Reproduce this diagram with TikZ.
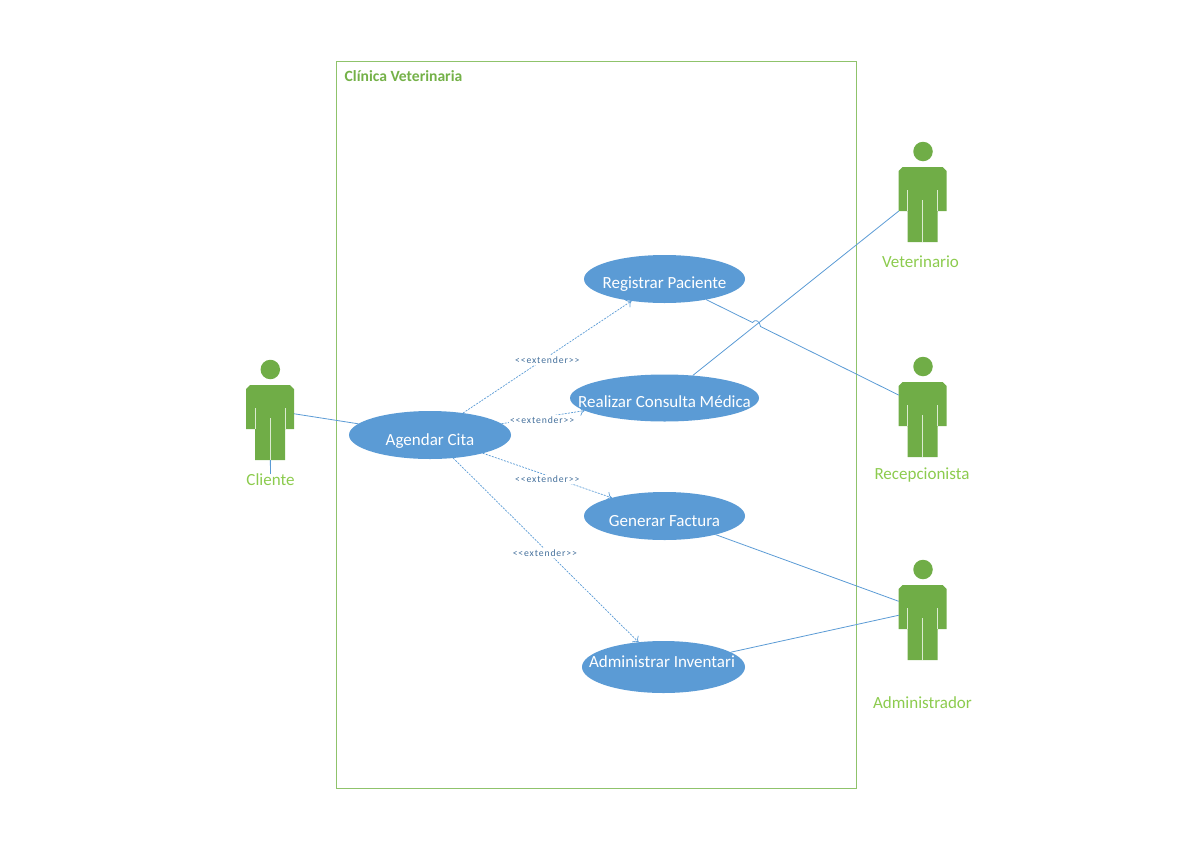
\documentclass[tikz,border=0pt]{standalone}
\usepackage{fontspec}
\setmainfont{Carlito}
\newfontfamily\extfont[LetterSpace=9]{Carlito}
\usepackage{xcolor}
\usetikzlibrary{shapes,arrows.meta,positioning}
\definecolor{actorgreen}{HTML}{70AD47}
\definecolor{labelgreen}{HTML}{8CCB4E}
\definecolor{framegreen}{HTML}{8FC36B}
\definecolor{caseblue}{HTML}{5B9BD5}
\definecolor{extblue}{HTML}{44709C}

% actor figure: name, x, y of the body centre
\newcommand{\actorfig}[3]{
    \node[actorbox] (#1) at (#2,#3) {};
    \node[actorhead] (#1head) at (#2+0.3,#3-40.5) {};
    \fill[actorgreen] (#2-20,#3-25) -- (#2+20,#3-25) -- (#2+24,#3-21) -- (#2+24,#3+19) -- (#2+15,#3+19)
        -- (#2+15,#3+50) -- (#2-15,#3+50) -- (#2-15,#3+19) -- (#2-24,#3+19) -- (#2-24,#3-21) -- cycle;
    \draw[actorgap] (#2-15,#3-2) -- (#2-15,#3+19);
    \draw[actorgap] (#2+15,#3-2) -- (#2+15,#3+19);
    \draw[actorgap] (#2,#3+8) -- (#2,#3+50);
}
% text of a use case, which does not widen its ellipse
\newcommand{\casetext}[2]{\raisebox{#1}[0pt][0pt]{\makebox[0pt]{#2}}}

\begin{document}
\begin{tikzpicture}[
    x=1pt, y=-1pt,
    usecase/.style={ellipse, fill=caseblue, inner sep=0pt, outer sep=0pt, text=white, font=\fontsize{17}{18}\selectfont},
    actorbox/.style={rectangle, minimum width=48pt, minimum height=100pt, inner sep=0pt, outer sep=0pt},
    actorhead/.style={circle, fill=actorgreen, minimum size=19.5pt, inner sep=0pt},
    actorgap/.style={white!75!actorgreen, line width=0.9pt},
    actorlabel/.style={text=labelgreen, font=\fontsize{17}{18}\selectfont, inner sep=0pt},
    assoc/.style={caseblue, line width=0.8pt},
    extend/.style={-{To[length=5pt, width=9pt, line width=0.7pt, fill=none]}, caseblue, line width=0.7pt, dash pattern=on 2pt off 1.2pt},
    extlabel/.style={fill=white, text=extblue, inner sep=1.5pt, font=\fontsize{9.7}{10}\extfont}
]
    \useasboundingbox (0,0) rectangle (1200,849);

    % System boundary
    \node[rectangle, draw=framegreen, line width=0.9pt, minimum width=520pt, minimum height=727pt, inner sep=0pt] (clinica) at (596.3,424.5) {};
    \node[text=actorgreen!85!labelgreen, font=\fontsize{15.6}{16}\selectfont\bfseries, inner sep=0pt] (titulo) at (403.5,76) {Clínica Veterinaria};

    % Use cases
    \node[usecase, minimum width=162pt, minimum height=48pt] (agendar) at (430,435) {\casetext{-10pt}{Agendar Cita}};
    \node[usecase, minimum width=161pt, minimum height=48pt] (registrar) at (664.5,279) {\casetext{-9pt}{Registrar Paciente}};
    \node[usecase, minimum width=189pt, minimum height=47pt] (realizar) at (664.5,398) {\casetext{-9pt}{Realizar Consulta Médica}};
    \node[usecase, minimum width=161pt, minimum height=48pt] (generar) at (664.5,516) {\casetext{-10pt}{Generar Factura}};
    \node[usecase, minimum width=163pt, minimum height=52pt] (administrar) at (663.5,667) {\casetext{0pt}{\hspace{-3pt}Administrar Inventari}};

    % Actor labels
    \node[actorlabel] (clientelabel) at (270.5,480) {Cliente};
    \node[actorlabel] (veterinariolabel) at (920.5,262) {Veterinario};
    \node[actorlabel] (recepcionistalabel) at (922,475) {Recepcionista};
    \node[actorlabel] (administradorlabel) at (922.5,702.5) {Administrador};

    % Crossing of the two long associations
    \coordinate (cruceA) at (752.5,322.5);
    \coordinate (cruceB) at (760.5,326.5);

    % Actors
    \actorfig{cliente}{270}{410}
    \actorfig{veterinario}{922.7}{192}
    \actorfig{recepcionista}{922.7}{407}
    \actorfig{administrador}{922.7}{610}

    % Associations
    \draw[assoc] (cliente) -- (agendar);
    \draw[assoc] (cliente) -- (clientelabel);
    \draw[assoc] (realizar) -- (veterinario);
    \draw[assoc] (registrar) -- (cruceA) .. controls (755,318.5) and (760,321) .. (cruceB) -- (recepcionista);
    \draw[assoc] (generar) -- (administrador);
    \draw[assoc] (administrar) -- (administrador);

    % Extensions
    \draw[extend] (agendar) -- node[extlabel, midway, yshift=-3pt] (ext1) {<{}<extender>{}>} (registrar);
    \draw[extend] (agendar) -- node[extlabel, midway, xshift=-1pt, yshift=-3pt] (ext2) {<{}<extender>{}>} (realizar);
    \draw[extend] (agendar) -- node[extlabel, midway, yshift=-4pt] (ext3) {<{}<extender>{}>} (generar);
    \draw[extend] (agendar) -- node[extlabel, midway, xshift=-1pt, yshift=-3pt] (ext4) {<{}<extender>{}>} (administrar);
\end{tikzpicture}
\end{document}
